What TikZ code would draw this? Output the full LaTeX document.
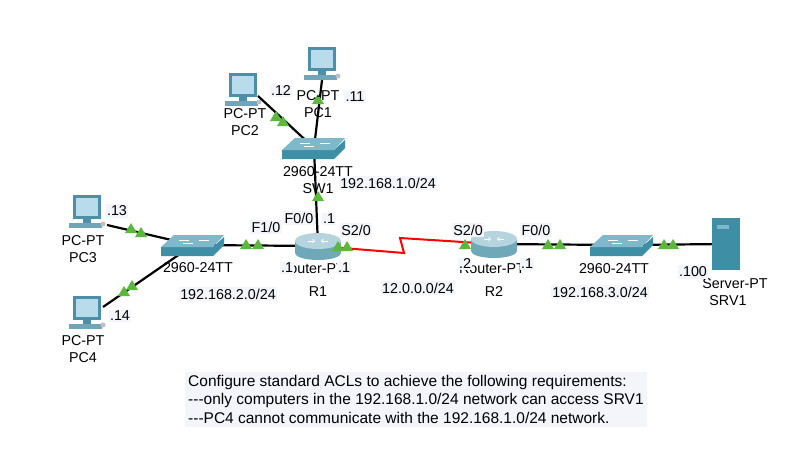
\documentclass[tikz,border=0pt]{standalone}
\usepackage{fontspec}
\setmainfont{Liberation Sans}
\begin{document}
\begin{tikzpicture}[x=1pt,y=-1pt,
  lbl/.style={font=\fontsize{14.3}{15}\selectfont, inner sep=1.5pt},
  addr/.style={lbl, fill=labbg},
  link/.style={line width=2.2pt, black},
  tri/.style={fill=trig, draw=none},
  pics/pc/.style={code={
    \fill[monf] (-14,-19) rectangle (14,5);
    \fill[scr] (-11,-16) rectangle (11,2);
    \fill[monf] (-4,5) rectangle (4,9);
    \fill[monf!80] (-18,9) rectangle (15,14);
    \fill[gray!50] (16,10) circle (2.5);}},
  pics/sw/.style={code={
    \fill[swd] (-32,2) -- (20,2) -- (31,-8) -- (31,0) -- (20,11) -- (-32,11) -- cycle;
    \fill[swt] (-32,2) -- (-19,-10) -- (31,-10) -- (20,2) -- cycle;
    \draw[white,line width=0.7pt] (-14,-5)--(-4,-5) (6,-5)--(16,-5) (-10,-2)--(0,-2);}},
  pics/rt/.style={code={
    \fill[rtd] (-23,-5) rectangle (23,7);
    \fill[rtd] (0,7) ellipse (23 and 7);
    \fill[rtt] (0,-5) ellipse (23 and 8);
    \draw[white,line width=0.8pt,->] (-10,-5)--(-3,-5);
    \draw[white,line width=0.8pt,->] (10,-5)--(3,-5);}},
  pics/srv/.style={code={
    \fill[swd] (-14,-26) rectangle (14,26);
    \fill[swt] (-9,-19) rectangle (3,-15);}}
]
\definecolor{labbg}{HTML}{F3F5FB}
\definecolor{trig}{HTML}{5CB83C}
\definecolor{monf}{HTML}{4E8FA8}
\definecolor{scr}{HTML}{B8DCEC}
\definecolor{swd}{HTML}{3E8FA6}
\definecolor{swt}{HTML}{7FB8CA}
\definecolor{rtd}{HTML}{6FA8B8}
\definecolor{rtt}{HTML}{B5D4DE}
\useasboundingbox (0,0) rectangle (800,471);
\fill[white] (0,0) rectangle (800,471);

\coordinate (pc1) at (322,66);
\coordinate (pc2) at (243,92);
\coordinate (sw1) at (314,148);
\coordinate (pc3) at (87,214);
\coordinate (pc4) at (87,315);
\coordinate (sw0) at (193,245);
\coordinate (r1) at (318,246);
\coordinate (r2) at (494,244);
\coordinate (sw2) at (622,245);
\coordinate (srv) at (726,244);
\coordinate (zA) at (404,253);
\coordinate (zB) at (400,238);
\coordinate (pc2e) at (258,96);
\coordinate (pc1e) at (322,80);
\coordinate (pc3e) at (107,225);
\coordinate (pc4e) at (103,307);

\draw[link] (pc2e) -- (sw1);
\draw[link] (pc1e) -- (sw1);
\draw[link] (sw1) -- (r1);
\draw[link] (pc3e) -- (sw0);
\draw[link] (pc4e) -- (sw0);
\draw[link] (sw0) -- (r1);
\draw[link] (r2) -- (sw2);
\draw[link] (sw2) -- (srv);
\draw[red, line width=2pt] (r1) -- (zA) -- (zB) -- (r2);

\pic at (pc1) {pc}; \pic at (pc2) {pc}; \pic at (pc3) {pc}; \pic at (pc4) {pc};
\pic at (sw1) {sw}; \pic at (sw0) {sw}; \pic at (sw2) {sw};
\pic at (r1) {rt}; \pic at (r2) {rt};
\pic at (srv) {srv};

\foreach \p in {(276,117),(283,122),(318,100),(318,197),(131,229),(141,233),(124,292),(132,286),(246,245),(258,245),(338,247),(347,247),(465,245),(548,245),(560,245),(664,245),(673,245)}
  \fill[tri] \p ++(0,-6) -- ++(6,10) -- ++(-12,0) -- cycle;

\node[lbl] (l1) at (318,96) {PC-PT};
\node[lbl] (l1b) at (318,113) {PC1};
\node[addr] (a11) at (355,97) {.11};
\node[lbl] (l2) at (245,114) {PC-PT};
\node[lbl] (l2b) at (245,131) {PC2};
\node[addr] (a12) at (281,91) {.12};
\node[lbl] (s1a) at (318,172) {2960-24TT};
\node[lbl] (s1b) at (318,189) {SW1};
\node[addr] (n1) at (388,183) {192.168.1.0/24};
\node[lbl] (l3) at (83,241) {PC-PT};
\node[lbl] (l3b) at (83,258) {PC3};
\node[addr] (a13) at (117,211) {.13};
\node[addr] (a14) at (120,316) {.14};
\node[lbl] (l4) at (83,341) {PC-PT};
\node[lbl] (l4b) at (83,358) {PC4};
\node[lbl] (s0a) at (198,268) {2960-24TT};
\node[addr] (n2) at (228,294) {192.168.2.0/24};
\node[lbl] (r1a) at (312,269) {Router-PT};
\node[lbl] (r1b) at (318,292) {R1};
\node[addr] (f10) at (266,227) {F1/0};
\node[addr] (f00) at (299,218) {F0/0};
\node[addr] (d1) at (329,219) {.1};
\node[addr] (s20) at (356,230) {S2/0};
\node[addr] (d2) at (287,268) {.1};
\node[addr] (d3) at (344,268) {.1};
\node[addr] (n12) at (418,288) {12.0.0.0/24};
\node[lbl] (r2a) at (492,269) {Router-PT};
\node[lbl] (r2b) at (494,292) {R2};
\node[addr] (s20b) at (468,230) {S2/0};
\node[addr] (f00b) at (536,230) {F0/0};
\node[addr] (d4) at (465,264) {.2};
\node[addr] (d5) at (527,264) {.1};
\node[lbl] (s2a) at (614,269) {2960-24TT};
\node[addr] (n3) at (600,292) {192.168.3.0/24};
\node[lbl] (sv1) at (735,284) {Server-PT};
\node[lbl] (sv2) at (728,301) {SRV1};
\node[addr] (a100) at (693,272) {.100};

\node[fill=labbg, anchor=north west, align=left, inner sep=3pt,
  font=\fontsize{15.5}{18.5}\selectfont] (note) at (185,372)
 {Configure standard ACLs to achieve the following requirements:\\
  {-}{-}{-}only computers in the 192.168.1.0/24 network can access SRV1\\
  {-}{-}{-}PC4 cannot communicate with the 192.168.1.0/24 network.};
\end{tikzpicture}
\end{document}
